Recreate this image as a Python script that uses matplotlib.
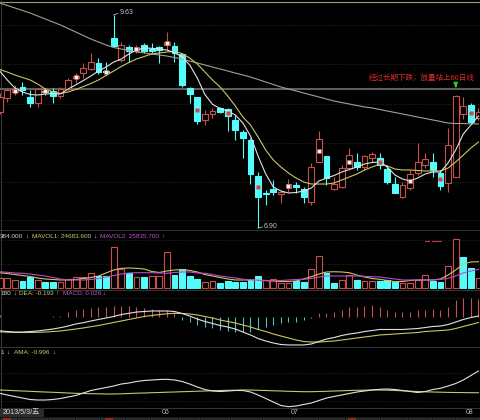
import matplotlib
matplotlib.use("Agg")
import matplotlib.pyplot as plt
from matplotlib.patches import Rectangle
from matplotlib import font_manager as fm

# ------------------------------------------------------------------ data
first_date_label = "2013/5/3/五"
month_labels = ["06", "07", "08"]
month_start_idx = [21, 38, 61]

opens = [8.390, 8.566, 8.643, 8.710, 8.582, 8.505, 8.660, 8.655, 8.591, 8.677,
         8.822, 8.882, 8.934, 9.010, 8.918, 9.335, 9.053, 9.223, 9.172, 9.245,
         9.190, 9.223, 9.245, 9.232, 9.130, 8.694, 8.582, 8.284, 8.360, 8.434,
         8.421, 8.284, 8.134, 8.027, 7.566, 7.351, 7.395, 7.335, 7.418, 7.446,
         7.395, 7.232, 7.749, 7.818, 7.405, 7.428, 7.664, 7.749, 7.677, 7.793,
         7.793, 7.651, 7.463, 7.293, 7.408, 7.600, 7.707, 7.749, 7.600, 7.480,
         7.557, 8.357, 8.476, 8.309]
highs = [8.630, 8.694, 8.732, 8.775, 8.668, 8.694, 8.698, 8.690, 8.710, 8.818,
         8.890, 9.010, 9.146, 9.075, 9.031, 9.630, 9.287, 9.245, 9.245, 9.267,
         9.267, 9.232, 9.416, 9.287, 9.139, 8.710, 8.582, 8.412, 8.434, 8.454,
         8.437, 8.348, 8.155, 8.053, 7.621, 7.386, 7.514, 7.386, 7.523, 7.493,
         7.428, 7.728, 8.146, 7.822, 7.557, 7.707, 7.921, 7.857, 7.835, 7.877,
         7.864, 7.707, 7.557, 7.493, 7.643, 7.985, 7.857, 7.857, 7.643, 8.177,
         8.604, 8.575, 8.498, 8.437]
lows = [8.360, 8.514, 8.604, 8.604, 8.454, 8.454, 8.604, 8.498, 8.562, 8.668,
        8.754, 8.818, 8.925, 8.869, 8.860, 9.219, 9.031, 9.031, 9.143, 9.139,
        9.139, 9.010, 9.181, 9.031, 8.710, 8.498, 8.232, 8.219, 8.305, 8.369,
        8.146, 8.027, 7.793, 7.463, 6.900, 7.194, 7.322, 7.216, 7.364, 7.344,
        7.216, 7.194, 7.749, 7.450, 7.386, 7.408, 7.643, 7.643, 7.643, 7.749,
        7.651, 7.463, 7.344, 7.280, 7.386, 7.578, 7.664, 7.557, 7.386, 7.364,
        7.553, 8.293, 8.241, 8.284]
closes = [8.582, 8.670, 8.680, 8.668, 8.505, 8.677, 8.640, 8.595, 8.677, 8.796,
          8.854, 8.946, 9.031, 8.903, 8.893, 9.232, 9.245, 9.172, 9.216, 9.170,
          9.172, 9.175, 9.284, 9.139, 8.732, 8.617, 8.275, 8.357, 8.403, 8.390,
          8.335, 8.155, 8.057, 7.591, 7.296, 7.335, 7.357, 7.364, 7.457, 7.421,
          7.296, 7.675, 8.036, 7.536, 7.457, 7.664, 7.835, 7.677, 7.822, 7.844,
          7.707, 7.493, 7.351, 7.450, 7.591, 7.749, 7.780, 7.643, 7.437, 7.963,
          8.591, 8.463, 8.262, 8.386]

ma5 = [8.912, 8.797, 8.694, 8.643, 8.611, 8.604, 8.617, 8.624, 8.617, 8.681,
       8.733, 8.790, 8.848, 8.912, 8.963, 9.027, 9.066, 9.130, 9.181, 9.207,
       9.203, 9.194, 9.181, 9.149, 9.092, 8.989, 8.822, 8.610, 8.485, 8.431,
       8.399, 8.348, 8.245, 8.079, 7.822, 7.592, 7.425, 7.374, 7.348, 7.354,
       7.374, 7.412, 7.502, 7.540, 7.572, 7.617, 7.649, 7.681, 7.720, 7.739,
       7.745, 7.681, 7.579, 7.527, 7.502, 7.540, 7.592, 7.617, 7.617, 7.733,
       7.899, 8.104, 8.220, 8.335]
ma10 = [8.931, 8.899, 8.861, 8.829, 8.797, 8.745, 8.681, 8.643, 8.624, 8.643,
        8.675, 8.713, 8.752, 8.797, 8.854, 8.912, 8.970, 9.021, 9.066, 9.098,
        9.130, 9.143, 9.156, 9.162, 9.136, 9.079, 9.002, 8.899, 8.797, 8.707,
        8.592, 8.463, 8.322, 8.220, 8.066, 7.899, 7.771, 7.681, 7.604, 7.540,
        7.489, 7.463, 7.463, 7.463, 7.476, 7.515, 7.553, 7.592, 7.643, 7.681,
        7.720, 7.694, 7.656, 7.643, 7.643, 7.636, 7.630, 7.630, 7.630, 7.668,
        7.745, 7.835, 7.925, 8.002]
ma60 = [9.784, 9.752, 9.720, 9.688, 9.656, 9.617, 9.579, 9.540, 9.502, 9.457,
        9.412, 9.367, 9.322, 9.284, 9.245, 9.213, 9.194, 9.175, 9.156, 9.143,
        9.130, 9.117, 9.104, 9.085, 9.066, 9.040, 9.015, 8.989, 8.963, 8.938,
        8.912, 8.886, 8.861, 8.835, 8.803, 8.771, 8.739, 8.707, 8.681, 8.656,
        8.630, 8.604, 8.579, 8.553, 8.527, 8.508, 8.489, 8.470, 8.451, 8.438,
        8.419, 8.399, 8.380, 8.361, 8.342, 8.322, 8.303, 8.284, 8.265, 8.245,
        8.239, 8.239, 8.233, 8.233]
ref_line_price = 8.675

white_mark_idx = [2, 6, 10, 14, 18, 22, 38, 42, 46, 54]
white_mark_price = [8.659, 8.650, 8.839, 8.905, 9.194, 9.267, 7.437, 7.890, 7.749, 7.502]
red_mark_idx = [26, 30, 34, 50, 58, 62]
red_mark_price = [8.412, 8.377, 7.425, 7.749, 7.523, 8.369]

high_label, high_idx = "9.63", 15
low_label, low_idx = "6.90", 34
signal_idx = 60
signal_text = "经过长期下跌，放量站上60日线"

vol = [15600, 15600, 12900, 11800, 18200, 12900, 10100, 10100, 10100, 14000,
       17200, 18200, 23700, 19300, 19300, 66500, 30100, 24600, 18200, 17200,
       19300, 19300, 58400, 20900, 30100, 19300, 14000, 10100, 11800, 8500,
       11300, 10100, 10100, 12900, 19300, 12900, 14000, 8500, 8500, 11800,
       10100, 30100, 51500, 24600, 8500, 12900, 20900, 12900, 11800, 11800,
       11800, 12900, 10100, 7600, 8500, 12900, 20900, 11800, 10100, 35400,
       78400, 50400, 31700, 15600]
mavol1 = [24600, 23300, 21700, 20100, 18500, 16100, 14500, 13700, 12900, 12900,
          13700, 15300, 16900, 19300, 24200, 29000, 31700, 32200, 31700, 30600,
          26600, 25000, 27400, 29000, 29800, 28200, 25800, 21700, 19300, 16900,
          14500, 12900, 12900, 12900, 12900, 12100, 11300, 10500, 10500, 11300,
          14500, 18200, 22500, 25800, 26200, 25800, 24600, 20900, 17700, 15300,
          14000, 12100, 10100, 10500, 12100, 12900, 12900, 12900, 14500, 20900,
          29000, 38600, 41900, 42300]
mavol2 = [26200, 25300, 24200, 23700, 22500, 20900, 19300, 16900, 14500, 12900,
          12900, 12900, 13700, 15300, 17700, 20100, 22500, 24200, 24600, 24600,
          24600, 24200, 23700, 25000, 25800, 25800, 24200, 23700, 21700, 19300,
          17700, 16100, 14000, 13400, 12400, 11800, 11800, 12100, 12900, 13700,
          14000, 15300, 17700, 19300, 19300, 19300, 19300, 19300, 18800, 18200,
          17700, 16100, 14500, 12900, 12900, 12900, 12900, 12900, 13700, 15600,
          19300, 24200, 27400, 30100]

macd_hist = [0.026, 0.010, 0.010, 0.010, 0.010, 0.010, 0.010, 0.012, 0.016, 0.074,
             0.097, 0.106, 0.120, 0.133, 0.141, 0.150, 0.150, 0.150, 0.141, 0.120,
             0.106, 0.097, 0.097, 0.074, -0.036, -0.059, -0.102, -0.125, -0.146, -0.166,
             -0.180, -0.193, -0.200, -0.193, -0.153, -0.125, -0.102, -0.080, -0.067, -0.059,
             -0.036, -0.009, 0.053, 0.053, 0.074, 0.097, 0.133, 0.133, 0.150, 0.164,
             0.133, 0.097, 0.074, 0.074, 0.074, 0.097, 0.097, 0.106, 0.097, 0.133,
             0.230, 0.253, 0.253, 0.239]
dif = [-0.180, -0.189, -0.196, -0.196, -0.189, -0.182, -0.169, -0.156, -0.138, -0.116,
       -0.089, -0.072, -0.049, -0.029, -0.009, 0.011, 0.037, 0.053, 0.070, 0.077,
       0.084, 0.084, 0.084, 0.077, 0.051, 0.017, -0.023, -0.056, -0.082, -0.109,
       -0.129, -0.156, -0.196, -0.235, -0.282, -0.315, -0.342, -0.362, -0.368, -0.368,
       -0.368, -0.355, -0.322, -0.289, -0.269, -0.242, -0.222, -0.209, -0.189, -0.176,
       -0.162, -0.162, -0.162, -0.162, -0.156, -0.149, -0.136, -0.122, -0.116, -0.096,
       -0.063, -0.029, -0.003, 0.017]
dea = [-0.193, -0.198, -0.202, -0.202, -0.202, -0.200, -0.196, -0.189, -0.182, -0.169,
       -0.156, -0.142, -0.125, -0.109, -0.089, -0.069, -0.049, -0.029, -0.009, 0.011,
       0.024, 0.037, 0.047, 0.053, 0.051, 0.044, 0.031, 0.011, -0.009, -0.036,
       -0.056, -0.076, -0.102, -0.129, -0.162, -0.189, -0.222, -0.249, -0.275, -0.302,
       -0.322, -0.329, -0.329, -0.322, -0.315, -0.302, -0.289, -0.275, -0.262, -0.249,
       -0.235, -0.229, -0.222, -0.215, -0.209, -0.202, -0.189, -0.182, -0.176, -0.169,
       -0.149, -0.122, -0.096, -0.069]

dma = [-1.089, -1.140, -1.185, -1.230, -1.275, -1.290, -1.290, -1.275, -1.245, -1.200,
       -1.155, -1.080, -1.005, -0.960, -0.915, -0.870, -0.810, -0.780, -0.735, -0.705,
       -0.690, -0.675, -0.669, -0.690, -0.735, -0.810, -0.900, -0.975, -1.020, -1.035,
       -1.020, -1.005, -1.005, -1.050, -1.140, -1.245, -1.350, -1.455, -1.491, -1.470,
       -1.425, -1.380, -1.305, -1.230, -1.185, -1.140, -1.095, -1.050, -1.020, -0.990,
       -0.969, -0.960, -0.975, -1.005, -1.035, -1.065, -1.035, -0.975, -0.939, -0.870,
       -0.795, -0.690, -0.555, -0.420]
ama = [-0.990, -0.999, -1.011, -1.020, -1.029, -1.041, -1.050, -1.059, -1.068, -1.080,
       -1.089, -1.095, -1.101, -1.104, -1.110, -1.110, -1.104, -1.095, -1.086, -1.080,
       -1.071, -1.065, -1.056, -1.050, -1.041, -1.035, -1.026, -1.020, -1.011, -1.005,
       -0.999, -0.996, -0.990, -0.990, -0.999, -1.005, -1.014, -1.020, -1.029, -1.035,
       -1.041, -1.041, -1.035, -1.029, -1.020, -1.014, -1.005, -0.999, -0.996, -0.990,
       -0.990, -0.996, -1.005, -1.014, -1.026, -1.035, -1.044, -1.050, -1.056, -1.062,
       -1.065, -1.068, -1.071, -1.071]

vol_header = [("384.000", "w"), ("↓", "w"), ("MAVOL1: 24683.600", "y"), ("↓", "w"),
              ("MAVOL2: 25835.700", "m"), ("↑", "m")]
macd_header = [("180", "w"), ("↓", "w"), ("DEA: -0.193", "y"), ("↑", "y"),
               ("MACD: 0.026", "m"), ("↓", "m")]
dma_header = [("1", "w"), ("↓", "w"), ("AMA: -0.996", "y"), ("↓", "y")]

# ------------------------------------------------------------------ style
BG = "#000000"
RED = "#c8504a"
CYAN = "#54fcfc"
WHITE_L = "#e2e2e2"
YEL = "#cdc466"
GRAY60 = "#a69f8c"
MAG = "#c048d0"
MACD_RED = "#c25252"
MACD_CYAN = "#4cc4c4"
TXT = {"w": "#d4d4d4", "y": "#d2c868", "m": "#c650d6"}

names = {f.name for f in fm.fontManager.ttflist}
NARROW = "Liberation Sans Narrow" if "Liberation Sans Narrow" in names else "Liberation Sans"
LAT = [NARROW, "DejaVu Sans"]
CJK = ["Noto Sans CJK SC", "DejaVu Sans"]
FS = 5.6
FSH = 4.6

W_PX, H_PX = 480, 420
STEP, X0 = 7.6, -0.3
XLIM = ((0 - X0) / STEP, (W_PX - X0) / STEP)

fig = plt.figure(figsize=(4.8, 4.2), dpi=100, facecolor=BG)
deco = fig.add_axes([0, 0, 1, 1], zorder=0)
deco.set_xlim(0, W_PX)
deco.set_ylim(H_PX, 0)
deco.set_axis_off()
deco.add_patch(Rectangle((0, 0), W_PX, H_PX, color=BG, zorder=0))


def panel(top, bot, ylim):
    ax = fig.add_axes([0, 1 - bot / H_PX, 1, (bot - top) / H_PX], zorder=2)
    ax.set_facecolor("none")
    ax.set_xlim(*XLIM)
    ax.set_ylim(*ylim)
    ax.set_axis_off()
    return ax


def hline(y, color, lw=0.7, ls="-"):
    deco.plot([0, W_PX], [y, y], color=color, lw=lw, ls=ls, zorder=1)


# frame / grid decoration (pixel coordinates)
hline(1.5, "#9a9a80", 0.8)
for y in [25, 63.5, 103.5, 143.3, 181.7, 220]:
    hline(y, "#333333", 0.6, (0, (1, 2)))
for y in [240, 264]:
    hline(y, "#333333", 0.6, (0, (1, 2)))
for y in [298.3]:
    hline(y, "#333333", 0.6, (0, (1, 2)))
for y in [373, 401]:
    hline(y, "#2e2e2e", 0.6, (0, (1, 2)))
for y in [230, 289.5, 347, 407.5]:
    hline(y, "#363636", 0.7)
deco.plot([0.6, 0.6], [0, 407], color="#3a3a3a", lw=0.7, zorder=1)

# ------------------------------------------------------------------ main price panel
PRICE_TOP, PX_PER = 9.8223, 78.0
ax = panel(0, 229, (PRICE_TOP - 229 / PX_PER, PRICE_TOP))
W = 0.74
ax.axhline(ref_line_price, color="#5e5e5e", lw=1.5, zorder=1)
for i, (o, h, l, c) in enumerate(zip(opens, highs, lows, closes)):
    top, bot = max(o, c), min(o, c)
    up = c > o
    col = RED if up else CYAN
    ax.add_patch(Rectangle((i - W / 2, bot), W, max(top - bot, 0.006),
                           facecolor=BG if up else CYAN, edgecolor=col, lw=0.8, zorder=3))
    ax.vlines(i, top, h, color=col, lw=0.8, zorder=2)
    ax.vlines(i, l, bot, color=col, lw=0.8, zorder=2)
idx = list(range(len(closes)))
ax.plot(idx, ma60, color=GRAY60, lw=0.8, zorder=4)
ax.plot(idx, ma10, color=YEL, lw=0.8, zorder=4)
ax.plot(idx, ma5, color=WHITE_L, lw=0.8, zorder=4)
ax.plot(white_mark_idx, white_mark_price, ls="none", marker="s", ms=2.8,
        mfc="#f4f4f4", mec=RED, mew=0.4, zorder=5)
ax.plot(red_mark_idx, red_mark_price, ls="none", marker="s", ms=2.6,
        mfc="#d84040", mec="none", zorder=5)

# high / low labels
hp = highs[high_idx]
ax.plot([high_idx, high_idx + 0.55], [hp, hp + 0.02], color="#bdbdbd", lw=0.6, zorder=5)
ax.text(high_idx + 0.75, hp + 0.026, high_label, color="#c8c8c8", fontsize=5.0,
        family=LAT, va="center", ha="left", zorder=6)
lp = lows[low_idx]
ax.plot([low_idx, low_idx + 0.55], [lp, lp + 0.012], color="#bdbdbd", lw=0.6, zorder=5)
ax.text(low_idx + 0.7, lp + 0.016, low_label, color="#c8c8c8", fontsize=5.0,
        family=LAT, va="center", ha="left", zorder=6)

# signal arrow and note
sh = highs[signal_idx]
ax.annotate("", xy=(signal_idx, sh + 0.062), xytext=(signal_idx, sh + 0.15),
            arrowprops=dict(arrowstyle="-|>", color="#2ccc2c", lw=1.3, mutation_scale=5),
            zorder=6)
deco.text(475, 77.5, signal_text, color="#e02a2a", fontsize=5.4, family=CJK,
          ha="right", va="center", zorder=6)

# ------------------------------------------------------------------ volume panel
VPX = 1610.0
axv = panel(230, 289, (-1 * VPX, 58 * VPX))
for i, v in enumerate(vol):
    up = i == 0 or closes[i] >= closes[i - 1]
    col = RED if up else CYAN
    axv.add_patch(Rectangle((i - W / 2, 0), W, v, facecolor=BG if up else CYAN,
                            edgecolor=col, lw=0.8, zorder=3))
axv.plot(idx, mavol1, color=YEL, lw=0.8, zorder=4)
axv.plot(idx, mavol2, color=MAG, lw=0.8, zorder=4)
deco.plot([425, 429], [240.5, 240.5], color="#c03838", lw=0.8, zorder=3)
deco.plot([432, 441], [240.5, 240.5], color="#c03838", lw=0.8, zorder=3)

# ------------------------------------------------------------------ MACD panel
MPX = 0.0133
axm = panel(289.5, 347, ((317.3 - 347) * MPX, (317.3 - 289.5) * MPX))
for i, hv in enumerate(macd_hist):
    axm.vlines(i, 0, hv, color=MACD_RED if hv >= 0 else MACD_CYAN, lw=0.8, zorder=3)
axm.plot(idx, dea, color=YEL, lw=0.8, zorder=4)
axm.plot(idx, dif, color=WHITE_L, lw=0.8, zorder=4)

# ------------------------------------------------------------------ DMA panel
DPX = 0.03
axd = panel(347, 407.5, ((357 - 407.5) * DPX, (357 - 347) * DPX))
axd.plot(idx, ama, color=YEL, lw=0.8, zorder=4)
axd.plot(idx, dma, color=WHITE_L, lw=0.8, zorder=4)

# ------------------------------------------------------------------ headers


def header(items, xs, y):
    for (s, c), x in zip(items, xs):
        deco.text(x, y, s, color=TXT[c], fontsize=FSH, family=LAT, ha="left",
                  va="center", zorder=6)


header(vol_header, [0, 25.5, 32, 93.5, 100, 161.5], 236.5)
header(macd_header, [0, 13.5, 19, 55.5, 63, 102.5], 293.2)
header(dma_header, [0.8, 6, 14, 52.5], 352.3)

# ------------------------------------------------------------------ date axis
axt = panel(407.5, 417, (0, 1))
for s, i0 in zip(month_labels, month_start_idx):
    axt.text(i0 + 0.3, 0.45, s, color="#bdbdbd", fontsize=5.0, family=LAT,
             ha="left", va="center")
deco.add_patch(Rectangle((0, 407.5), 43.5, 9, facecolor="#2c2c2c", edgecolor="none", zorder=3))
deco.text(3, 412, first_date_label, color="#d6d6d6", fontsize=5.2,
          family=[NARROW, "Noto Sans CJK SC"], ha="left", va="center", zorder=6)

# bottom tab strip
deco.add_patch(Rectangle((0, 417.2), W_PX, 2.8, facecolor="#161616", edgecolor="none", zorder=3))
tab_edges = [0, 17, 48, 75, 100, 125, 150, 178, 200, 230, 262, 290, 318, 345, 380, 408, 432, 455, 480]
for a, b in zip(tab_edges[:-1], tab_edges[1:]):
    deco.add_patch(Rectangle((a + 1, 417.6), b - a - 2, 2.4, facecolor="#262626",
                             edgecolor="#3c3c3c", lw=0.4, zorder=4))
for a in [3, 105, 348]:
    deco.add_patch(Rectangle((a, 418.2), 8, 1.5, facecolor="#8a2a2a", edgecolor="none", zorder=5))

fig.savefig("out.png", dpi=100, facecolor=BG)
